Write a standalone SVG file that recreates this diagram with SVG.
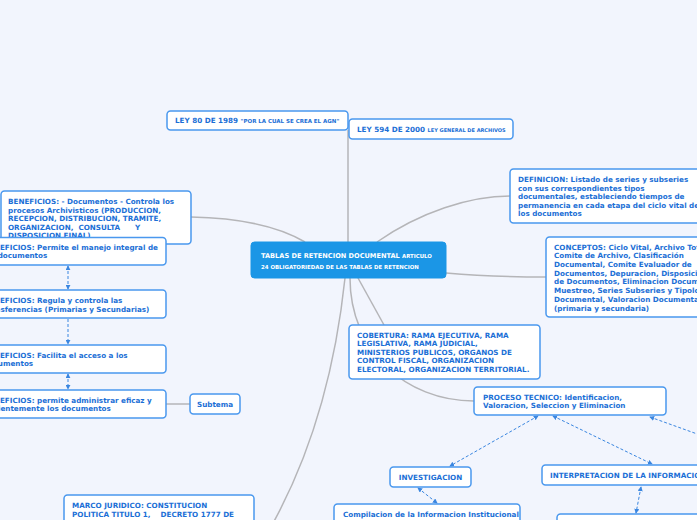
<svg xmlns="http://www.w3.org/2000/svg" width="697" height="520" viewBox="0 0 697 520">
<style>
.bg{fill:#f2f5fd}
.node{fill:#ffffff;stroke:#4a98ee;stroke-width:1.5}
.center{fill:#1b96e6;stroke:#1b96e6;stroke-width:1}
.t{font-family:"DejaVu Sans",Verdana,sans-serif;font-weight:bold;font-size:7.2px;fill:#1b6fd6}
.s{font-size:5px}
.s2{font-size:5.5px}
.ct{font-family:"DejaVu Sans",Verdana,sans-serif;font-weight:bold;font-size:6.6px;fill:#ffffff}
.cs{font-size:5.4px}
.conn{fill:none;stroke:#b5b5b8;stroke-width:1.5}
.rel{fill:none;stroke:#3a86e0;stroke-width:1;stroke-dasharray:3 2}
</style>
<defs>
<marker id="ar" viewBox="0 0 6 6" refX="5" refY="3" markerWidth="5" markerHeight="5" markerUnits="userSpaceOnUse" orient="auto-start-reverse">
<path d="M0,0 L6,3 L0,6 z" fill="#3a86e0"/>
</marker>
</defs>
<rect class="bg" x="0" y="0" width="697" height="520"/>

<g id="connectors">
<path class="conn" d="M348,130 L348,242"/>
<path class="conn" d="M191,217 C240,218 278,226 305,242"/>
<path class="conn" d="M377,242 C420,212 470,196 510,196"/>
<path class="conn" d="M446,273 C480,276 510,277 546,277"/>
<path class="conn" d="M358,278 L384,325"/>
<path class="conn" d="M350,278 C350,350 405,401 474,401"/>
<path class="conn" d="M345,278 Q330,420 272,525"/>
<path class="conn" d="M166,404 L190,404"/>
<path class="rel" d="M68,266 L68,289" marker-start="url(#ar)" marker-end="url(#ar)"/>
<path class="rel" d="M68,319 L68,344" marker-end="url(#ar)"/>
<path class="rel" d="M68,374 L68,389" marker-start="url(#ar)" marker-end="url(#ar)"/>
<path class="rel" d="M538,416 L450,466" marker-start="url(#ar)" marker-end="url(#ar)"/>
<path class="rel" d="M553,416 L652,464" marker-start="url(#ar)" marker-end="url(#ar)"/>
<path class="rel" d="M650,417 L700,435" marker-start="url(#ar)"/>
<path class="rel" d="M418,488 L437,503" marker-start="url(#ar)" marker-end="url(#ar)"/>
<path class="rel" d="M641,487 L636,513" marker-start="url(#ar)" marker-end="url(#ar)"/>
</g>

<g id="ley80">
<rect class="node" x="167" y="111" width="181" height="19" rx="3.5"/>
<text class="t" x="175" y="123.3">LEY 80 DE 1989 <tspan class="s2">"POR LA CUAL SE CREA EL AGN"</tspan></text>
</g>

<g id="ley594">
<rect class="node" x="349" y="119" width="164" height="20" rx="3.5"/>
<text class="t" x="357" y="132">LEY 594 DE 2000 <tspan class="s">LEY GENERAL DE ARCHIVOS</tspan></text>
</g>

<g id="central">
<rect class="center" x="251" y="242" width="195" height="36" rx="3.5"/>
<text class="ct" x="261" y="257.8">TABLAS DE RETENCION DOCUMENTAL <tspan class="cs">ARTICULO</tspan></text>
<text class="ct cs" x="261" y="268.8">24 OBLIGATORIEDAD DE LAS TABLAS DE RETENCION</text>
</g>

<g id="beneficios1">
<rect class="node" x="1" y="191" width="190" height="53" rx="3.5"/>
<text class="t" x="8" y="204.3">BENEFICIOS: - Documentos - Controla los</text>
<text class="t" x="8" y="212.7">procesos Archivisticos (PRODUCCION,</text>
<text class="t" x="8" y="221.1">RECEPCION, DISTRIBUCION, TRAMITE,</text>
<text class="t" x="8" y="229.5" xml:space="preserve">ORGANIZACION,  CONSULTA      Y</text>
<text class="t" x="8" y="237.9">DISPOSICION FINAL)</text>
</g>

<g id="beneficios2">
<rect class="node" x="-10" y="237.5" width="176" height="27.5" rx="3.5"/>
<text class="t" x="-16.5" y="250.2">BENEFICIOS: Permite el manejo integral de</text>
<text class="t" x="-16.5" y="258.4">los documentos</text>
</g>

<g id="beneficios3">
<rect class="node" x="-10" y="290" width="176" height="28" rx="3.5"/>
<text class="t" x="-16.5" y="303.3">BENEFICIOS: Regula y controla las</text>
<text class="t" x="-16.5" y="311.6">transferencias (Primarias y Secundarias)</text>
</g>

<g id="beneficios4">
<rect class="node" x="-10" y="345" width="176" height="28" rx="3.5"/>
<text class="t" x="-16.5" y="358.3">BENEFICIOS: Facilita el acceso a los</text>
<text class="t" x="-16.5" y="366.3">documentos</text>
</g>

<g id="beneficios5">
<rect class="node" x="-10" y="390" width="176" height="28" rx="3.5"/>
<text class="t" x="-16.5" y="403.3">BENEFICIOS: permite administrar eficaz y</text>
<text class="t" x="-16.5" y="411.2">eficientemente los documentos</text>
</g>

<g id="subtema">
<rect class="node" x="190" y="394" width="50" height="20" rx="3.5"/>
<text class="t" x="215" y="406.8" text-anchor="middle">Subtema</text>
</g>

<g id="definicion">
<rect class="node" x="510" y="169" width="200" height="54" rx="3.5"/>
<text class="t" x="518" y="182.3">DEFINICION: Listado de series y subseries</text>
<text class="t" x="518" y="190.7">con sus correspondientes tipos</text>
<text class="t" x="518" y="199.1">documentales, estableciendo tiempos de</text>
<text class="t" x="518" y="207.5">permanencia en cada etapa del ciclo vital de</text>
<text class="t" x="518" y="215.9">los documentos</text>
</g>

<g id="conceptos">
<rect class="node" x="546" y="237" width="200" height="80" rx="3.5"/>
<text class="t" x="554" y="249.6">CONCEPTOS: Ciclo Vital, Archivo Total,</text>
<text class="t" x="554" y="258.3">Comite de Archivo, Clasificación</text>
<text class="t" x="554" y="267">Documental, Comite Evaluador de</text>
<text class="t" x="554" y="275.7">Documentos, Depuracion, Disposicion</text>
<text class="t" x="554" y="284.4">de Documentos, Eliminacion Documental,</text>
<text class="t" x="554" y="293.1">Muestreo, Series Subseries y Tipologia</text>
<text class="t" x="554" y="301.8">Documental, Valoracion Documental</text>
<text class="t" x="554" y="310.5">(primaria y secundaria)</text>
</g>

<g id="cobertura">
<rect class="node" x="349" y="325" width="191" height="54" rx="3.5"/>
<text class="t" x="357" y="338">COBERTURA: RAMA EJECUTIVA, RAMA</text>
<text class="t" x="357" y="346.4">LEGISLATIVA, RAMA JUDICIAL,</text>
<text class="t" x="357" y="354.8">MINISTERIOS PUBLICOS, ORGANOS DE</text>
<text class="t" x="357" y="363.2">CONTROL FISCAL, ORGANIZACION</text>
<text class="t" x="357" y="371.6">ELECTORAL, ORGANIZACION TERRITORIAL.</text>
</g>

<g id="proceso">
<rect class="node" x="474" y="387" width="192" height="28" rx="3.5"/>
<text class="t" x="483" y="400">PROCESO TECNICO: Identificacion,</text>
<text class="t" x="483" y="408">Valoracion, Seleccion y Eliminacion</text>
</g>

<g id="investigacion">
<rect class="node" x="390" y="467" width="81" height="20" rx="3.5"/>
<text class="t" x="430.5" y="479.8" text-anchor="middle">INVESTIGACION</text>
</g>

<g id="interpretacion">
<rect class="node" x="542" y="465" width="200" height="20" rx="3.5"/>
<text class="t" x="550" y="477.9">INTERPRETACION DE LA INFORMACION</text>
</g>

<g id="compilacion">
<rect class="node" x="334" y="504" width="186" height="30" rx="3.5"/>
<text class="t" x="343" y="517">Compilacion de la Informacion Institucional</text>
</g>

<g id="interp-child">
<rect class="node" x="557" y="514" width="200" height="20" rx="3.5"/>
</g>

<g id="marco">
<rect class="node" x="64" y="495" width="190" height="40" rx="3.5"/>
<text class="t" x="72" y="508">MARCO JURIDICO: CONSTITUCION</text>
<text class="t" x="72" y="516.5" xml:space="preserve">POLITICA TITULO 1,    DECRETO 1777 DE</text>
</g>
</svg>
